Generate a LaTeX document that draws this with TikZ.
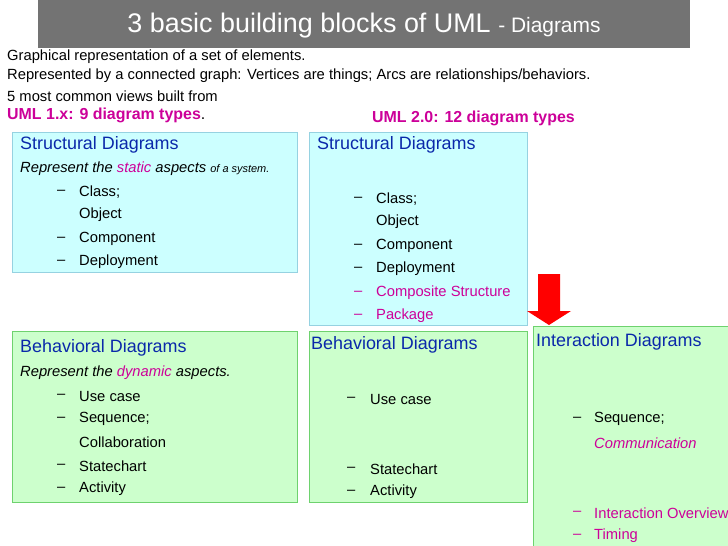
\documentclass[tikz,border=0pt]{standalone}
\usepackage{fontspec}
\setmainfont{Liberation Sans}
\definecolor{headblue}{RGB}{10,40,170}
\definecolor{umlpink}{RGB}{204,0,153}
\definecolor{cyanfill}{RGB}{204,255,255}
\definecolor{cyanline}{RGB}{150,210,225}
\definecolor{greenfill}{RGB}{204,255,204}
\definecolor{greenline}{RGB}{110,210,110}
\tikzset{
  txt/.style={anchor=west, inner sep=0pt, font=\fontsize{14.8}{16}\selectfont},
  head/.style={txt, text=headblue, font=\fontsize{18}{20}\selectfont},
  pink/.style={txt, text=umlpink},
  sbox/.style={draw=cyanline, fill=cyanfill, line width=1pt},
  bbox/.style={draw=greenline, fill=greenfill, line width=1pt}
}
\newcommand{\dashitem}[4]{% x of dash, x of text, y, text
  \node[txt] at (#1,#3) {--};
  \node[txt] at (#2,#3) {#4};}
\begin{document}
\begin{tikzpicture}[x=1bp,y=-1bp]
  \useasboundingbox (0,0) rectangle (728,546);
  \begin{scope}
  \clip (0,0) rectangle (728,546);
  % title
  \fill[gray!90!black] (38,0) rectangle (690,48);
  \node[anchor=center, text=white, font=\fontsize{27}{29}\selectfont] (title) at (364,26)
    {3 basic building blocks of UML \fontsize{21}{23}\selectfont - Diagrams};
  % intro lines
  \node[txt] (l1) at (7,57) {Graphical representation of a set of elements.};
  \node[txt] (l2) at (7,76) {Represented by a connected graph: Vertices are things; Arcs are relationships/behaviors.};
  \node[txt] (l3) at (7,96) {5 most common views built from};
  \node[pink, font=\bfseries\fontsize{16}{18}\selectfont] (v1) at (7,115) {UML 1.x: 9 diagram types\textcolor{black}{\mdseries.}};
  \node[pink, font=\bfseries\fontsize{16}{18}\selectfont] (v2) at (372,118) {UML 2.0: 12 diagram types};

  % boxes
  \draw[sbox] (12,133) rectangle (297,272);
  \draw[sbox] (309,133) rectangle (527,325);
  \draw[bbox] (12,331) rectangle (297,502);
  \draw[bbox] (309,331) rectangle (527,502);
  \draw[bbox] (533,326) rectangle (740,556);

  % arrow
  \fill[red] (538,274) -- (560,274) -- (560,311) -- (571,311) -- (549,325) -- (527,311) -- (538,311) -- cycle;

  % structural 1.x
  \node[head] (s1) at (20,145) {Structural Diagrams};
  \node[txt, font=\itshape\fontsize{14.8}{16}\selectfont] (s1d) at (20,169)
    {Represent the \textcolor{umlpink}{static} aspects {\fontsize{11}{13}\selectfont of a system.}};
  \dashitem{57}{79}{192}{Class;}
  \node[txt] at (79,215) {Object};
  \dashitem{57}{79}{239}{Component}
  \dashitem{57}{79}{262}{Deployment}

  % structural 2.0
  \node[head] (s2) at (317,145) {Structural Diagrams};
  \dashitem{354}{376}{199}{Class;}
  \node[txt] at (376,222) {Object};
  \dashitem{354}{376}{246}{Component}
  \dashitem{354}{376}{269}{Deployment}
  \node[pink] at (354,293) {--};
  \node[pink] at (376,293) {Composite Structure};
  \node[pink] at (354,316) {--};
  \node[pink] at (376,316) {Package};

  % behavioral 1.x
  \node[head] (b1) at (20,348) {Behavioral Diagrams};
  \node[txt, font=\itshape\fontsize{14.8}{16}\selectfont] (b1d) at (20,373)
    {Represent the \textcolor{umlpink}{dynamic} aspects.};
  \dashitem{57}{79}{396}{Use case}
  \dashitem{57}{79}{419}{Sequence;}
  \node[txt] at (79,442) {Collaboration};
  \dashitem{57}{79}{466}{Statechart}
  \dashitem{57}{79}{489}{Activity}

  % behavioral 2.0
  \node[head] (b2) at (311,345) {Behavioral Diagrams};
  \dashitem{347}{370}{399}{Use case}
  \dashitem{347}{370}{469}{Statechart}
  \dashitem{347}{370}{492}{Activity}

  % interaction 2.0
  \node[head] (i2) at (536,342) {Interaction Diagrams};
  \dashitem{573}{594}{419}{Sequence;}
  \node[pink, font=\itshape\fontsize{14.8}{16}\selectfont] at (594,443) {Communication};
  \node[pink] at (573,513) {--};
  \node[pink] at (594,513) {Interaction Overview};
  \node[pink] at (573,536) {--};
  \node[pink] at (594,536) {Timing};
  \end{scope}
\end{tikzpicture}
\end{document}
